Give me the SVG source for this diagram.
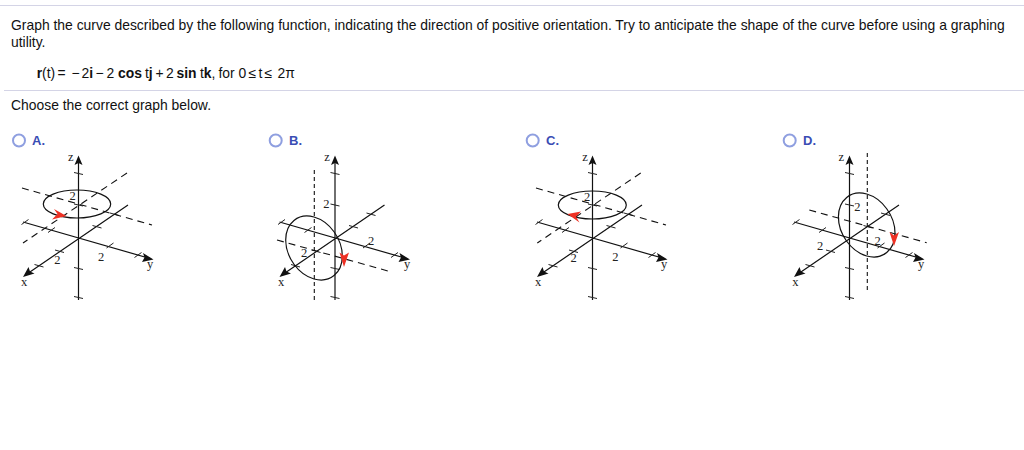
<svg xmlns="http://www.w3.org/2000/svg" width="1024" height="450" viewBox="0 0 1024 450">
<style>
text{font-family:"Liberation Sans",Arial,sans-serif;fill:#111}
.t{font-size:13.900px}
.b{font-weight:700}
.opt{font-size:13px;font-weight:700;fill:#3a4db4}
.radio{fill:#fff;stroke:#8f9fe0;stroke-width:2}
.l{font-family:"Liberation Serif","Times New Roman",serif;font-size:12.500px;text-anchor:middle;fill:#222}
.rule{stroke:#d4d4e6;stroke-width:1}
.ax{stroke:#111;stroke-width:1.200;fill:none}
.tk{stroke:#222;stroke-width:1;fill:none}
.da{stroke:#111;stroke-width:1.100;fill:none;stroke-dasharray:7 5}
.dv{stroke:#111;stroke-width:1.100;fill:none;stroke-dasharray:4 3}
.cv{stroke:#111;stroke-width:1.200;fill:none;vector-effect:non-scaling-stroke}
.red{fill:#ee3124}
.ah{fill:#111}
</style>
<defs>
<g id="axes">
<path class="ax" d="M78.500 160V300M23 222L150 258.500M128 205L27 274"/>
<polygon class="ah" points="78.500,155.500 82.500,165 78.500,163 74.500,165"/>
<polygon class="ah" points="153.500,259.500 142,262 144.500,257.500 143,253"/>
<polygon class="ah" points="23,277 28.500,267 30,271.500 34.500,273.500"/>
<path class="tk" d="M74 172.500l9 2M74 204l9 2M74 267.500l9 2M74 296.500l9 2M21.500 224.500l7 -5M48 232.500l7 -5M106.500 248l7 -5M134.500 257.500l7 -5M110 213l9 2.500M92.500 225.500l9 2.500M55 250l9 2.500M34.500 264.500l9 2.500"/>
</g>
</defs>
<g id="header">
<line class="rule" x1="0" y1="5.500" x2="1024" y2="5.500"/>
<line class="rule" x1="4" y1="90.500" x2="1024" y2="90.500"/>
<text class="t" x="11" y="30">Graph the curve described by the following function, indicating the direction of positive orientation. Try to anticipate the shape of the curve before using a graphing</text>
<text class="t" x="11" y="47">utility.</text>
<text class="t" y="78"><tspan class="b" x="36.700">r</tspan><tspan>(t)</tspan><tspan x="57.500">=</tspan><tspan x="71.500">−</tspan><tspan x="81.500">2</tspan><tspan class="b">i</tspan><tspan x="95.500">−</tspan><tspan x="106.500">2</tspan><tspan class="b" x="118">cos</tspan><tspan x="145">t</tspan><tspan class="b">j</tspan><tspan x="155.500">+</tspan><tspan x="166">2</tspan><tspan class="b" x="176.500">sin</tspan><tspan x="200">t</tspan><tspan class="b">k</tspan><tspan>,</tspan><tspan x="218.500">for</tspan><tspan x="238.500">0</tspan><tspan x="248.500">≤</tspan><tspan x="258.500">t</tspan><tspan x="264.500">≤</tspan><tspan x="277.500">2π</tspan></text>
<text class="t" x="11" y="110">Choose the correct graph below.</text>
</g>
<g id="connectors">
<use href="#axes"/>
<use href="#axes" x="256.500"/>
<use href="#axes" x="514"/>
<use href="#axes" x="771"/>
</g>
<g id="option-a">
<circle class="radio" cx="19" cy="140.500" r="6"/>
<text class="opt" x="32" y="145">A.</text>
<path class="da" d="M22 188L152 225M127 173L23 243"/>
<ellipse class="cv" cx="77" cy="204" rx="33.700" ry="14"/>
<polygon class="red" points="66.500,216 54,209 57.500,214 52,219.500"/>
<text class="l" x="70.700" y="161">z</text><text class="l" x="24" y="286">x</text><text class="l" x="150" y="268">y</text>
<text class="l" x="72.700" y="200">2</text><text class="l" x="57.300" y="264">2</text><text class="l" x="101" y="261">2</text>
</g>
<g id="option-b">
<circle class="radio" cx="275.700" cy="140.500" r="6"/>
<text class="opt" x="289" y="145">B.</text>
<path class="dv" d="M314.300 170V300"/>
<path class="da" d="M277 240L388 271"/>
<circle class="cv" r="1" transform="matrix(28.300 8 0 31 314 248)"/>
<polygon class="red" points="344,267 339.500,252.500 344,255.500 349,252.500"/>
<text class="l" x="327" y="161">z</text><text class="l" x="281" y="286">x</text><text class="l" x="407" y="268">y</text>
<text class="l" x="326.300" y="208">2</text><text class="l" x="371" y="245">2</text><text class="l" x="304" y="257">2</text>
</g>
<g id="option-c">
<circle class="radio" cx="532.700" cy="140.500" r="6"/>
<text class="opt" x="546" y="145">C.</text>
<path class="da" d="M536 188L666 225M640.700 173L537.300 243"/>
<ellipse class="cv" cx="592.300" cy="205" rx="34" ry="14"/>
<polygon class="red" points="567.500,214 579.500,222.500 576,216.700 581,211.500"/>
<text class="l" x="585" y="161">z</text><text class="l" x="538" y="286">x</text><text class="l" x="664" y="268">y</text>
<text class="l" x="587" y="201">2</text><text class="l" x="573.700" y="262">2</text><text class="l" x="615.300" y="261">2</text>
</g>
<g id="option-d">
<circle class="radio" cx="789.700" cy="140.500" r="6"/>
<text class="opt" x="803" y="145">D.</text>
<path class="dv" d="M867.300 153V290"/>
<path class="da" d="M809.300 210L926.700 242.700"/>
<circle class="cv" r="1" transform="matrix(28.300 8 0 31 866.700 225)"/>
<polygon class="red" points="894,246 889.500,232 894,235.500 899,232"/>
<text class="l" x="841.300" y="161">z</text><text class="l" x="795.300" y="286">x</text><text class="l" x="921" y="268">y</text>
<text class="l" x="857.300" y="211">2</text><text class="l" x="877.700" y="245">2</text><text class="l" x="820" y="250">2</text>
</g>
</svg>
